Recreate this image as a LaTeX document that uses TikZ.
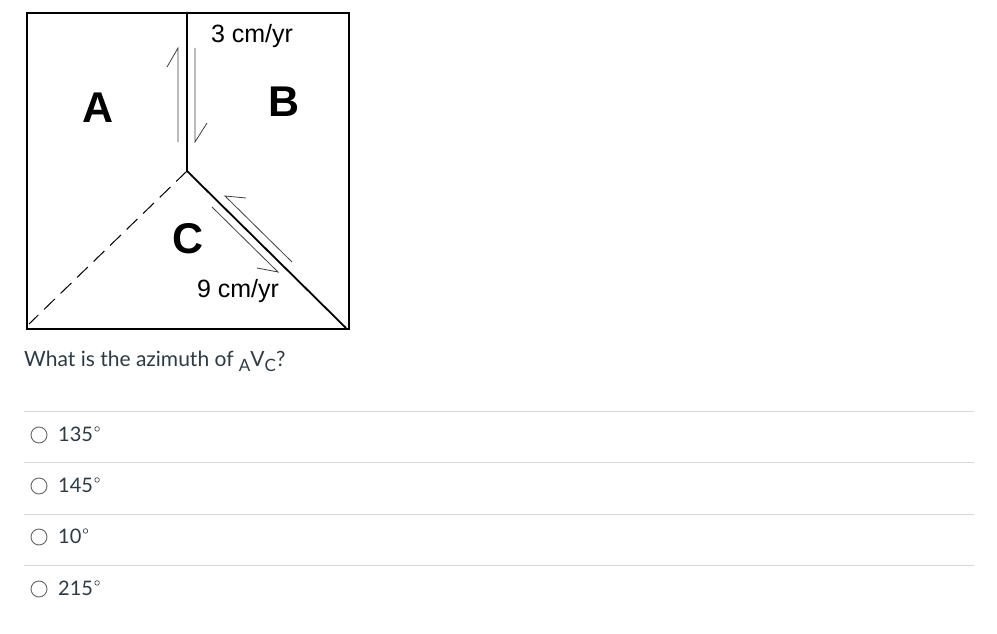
\documentclass[tikz,border=0pt]{standalone}
\usepackage{fontspec}
\setmainfont{Lato}
\newfontfamily\arial{Liberation Sans}
\definecolor{qtext}{HTML}{2D3B45}
\newcommand{\degmark}{\hspace{1.5pt}\raisebox{10pt}{\tikz\draw[qtext,line width=0.6pt] (0,0) circle[radius=2.3pt];}}
\begin{document}
\begin{tikzpicture}[x=1pt,y=-1pt,
  fault/.style={line width=1.8pt,black},
  half/.style={line width=0.8pt,black!75},
  lab/.style={font=\arial\fontsize{25}{27}\selectfont,inner sep=0pt},
  plate/.style={font=\arial\bfseries\fontsize{43}{44}\selectfont,inner sep=0pt},
  q/.style={font=\fontsize{21}{23}\selectfont,inner sep=0pt,anchor=west,text=qtext},
  sep/.style={draw=black!15,line width=0.8pt},
  radio/.style={circle,draw=black!60,line width=0.9pt,minimum size=16pt,inner sep=0pt}]
\useasboundingbox (0,0) rectangle (997,634);
\fill[white] (0,0) rectangle (997,634);
% box
\node[draw,line width=1.8pt,minimum width=322pt,minimum height=316pt,inner sep=0pt,anchor=north west] (box) at (26,12) {};
\coordinate (top) at (187,12);
\coordinate (J) at (187,171);
\coordinate (BR) at (346,328);
\coordinate (BL) at (29,324);
\draw[fault] (top) -- (J) -- (BR);
\draw[line width=1pt,dash pattern=on 15pt off 8pt] (J) -- (BL);
% half arrows vertical
\coordinate (a1) at (178,142); \coordinate (a2) at (178,48); \coordinate (a3) at (167,67);
\draw[half] (a1) -- (a2) -- (a3);
\coordinate (b1) at (195,48); \coordinate (b2) at (195,142); \coordinate (b3) at (207,123);
\draw[half] (b1) -- (b2) -- (b3);
% half arrows diagonal
\coordinate (c1) at (292,262); \coordinate (c2) at (225,196); \coordinate (c3) at (246,198);
\draw[half] (c1) -- (c2) -- (c3);
\coordinate (d1) at (212,207); \coordinate (d2) at (278,272); \coordinate (d3) at (257,268);
\draw[half] (d1) -- (d2) -- (d3);
% labels
\node[lab] (v1) at (252,36) {3 cm/yr};
\node[lab] (v2) at (238,291) {9 cm/yr};
\node[plate] (A) at (98,108) {A};
\node[plate] (B) at (284,102) {B};
\node[plate] (C) at (188,239) {C};
% question
\node[q] (qq) at (24,361) {What is the azimuth of \raisebox{-0.5ex}{\fontsize{17}{17}\selectfont A}V\raisebox{-0.5ex}{\fontsize{17}{17}\selectfont C}?};
% separators
\draw[sep] (24,411) -- (974,411);
\draw[sep] (24,462) -- (974,462);
\draw[sep] (24,514) -- (974,514);
\draw[sep] (24,565) -- (974,565);
% options
\node[radio] (r1) at (39,435) {};
\node[radio] (r2) at (39,486) {};
\node[radio] (r3) at (39,537) {};
\node[radio] (r4) at (39,589) {};
\node[q,font=\fontsize{20}{22}\selectfont] (o1) at (58,434) {135\degmark};
\node[q,font=\fontsize{20}{22}\selectfont] (o2) at (58,485) {145\degmark};
\node[q,font=\fontsize{20}{22}\selectfont] (o3) at (58,536) {10\degmark};
\node[q,font=\fontsize{20}{22}\selectfont] (o4) at (58,588) {215\degmark};
\end{tikzpicture}
\end{document}
